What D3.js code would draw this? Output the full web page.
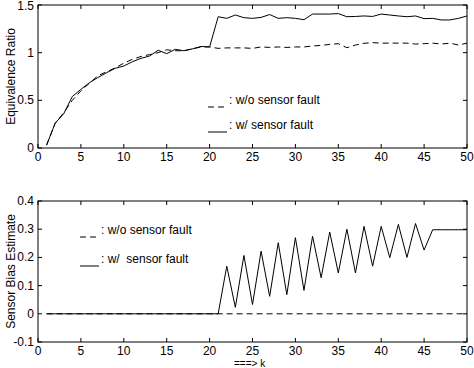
<!DOCTYPE html>
<html>
<head>
<meta charset="utf-8">
<script src="https://cdn.jsdelivr.net/npm/d3@7"></script>
<style>
  body { margin: 0; background: #fff; }
  text { font-family: "Liberation Sans", Arial, sans-serif; fill: #000; }
</style>
</head>
<body>
<div id="chart"></div>
<script>
const k = d3.range(1, 51);

// equivalence ratio, k = 1..50
const ratioNoFault = [0.03, 0.26, 0.37, 0.50, 0.60, 0.68, 0.76, 0.80, 0.84, 0.89,
  0.93, 0.96, 0.98, 1.00, 1.03, 1.02, 1.02, 1.04, 1.06, 1.06,
  1.045, 1.05, 1.05, 1.05, 1.045, 1.06, 1.055, 1.06, 1.055, 1.06,
  1.06, 1.07, 1.076, 1.087, 1.094, 1.052, 1.08, 1.098, 1.105, 1.10,
  1.10, 1.10, 1.10, 1.09, 1.094, 1.10, 1.09, 1.10, 1.08, 1.10];
const ratioFault = [0.03, 0.26, 0.36, 0.54, 0.615, 0.685, 0.74, 0.79, 0.836, 0.86,
  0.905, 0.94, 0.965, 1.025, 0.99, 1.035, 1.02, 1.04, 1.065, 1.06,
  1.377, 1.36, 1.395, 1.367, 1.36, 1.37, 1.40, 1.36, 1.367, 1.36,
  1.346, 1.405, 1.405, 1.405, 1.41, 1.377, 1.38, 1.385, 1.38, 1.405,
  1.395, 1.385, 1.377, 1.385, 1.357, 1.36, 1.343, 1.343, 1.36, 1.385];

// sensor bias estimate
const biasNoFault = k.map(() => 0);
const biasFault = [0, 0, 0, 0, 0, 0, 0, 0, 0, 0,
  0, 0, 0, 0, 0, 0, 0, 0, 0, 0,
  0, 0.169, 0.023, 0.207, 0.033, 0.222, 0.062, 0.252, 0.068, 0.27,
  0.083, 0.275, 0.128, 0.29, 0.145, 0.30, 0.145, 0.31, 0.169, 0.31,
  0.199, 0.317, 0.20, 0.32, 0.226, 0.298, 0.298, 0.298, 0.298, 0.298];

const xTicks = d3.range(0, 51, 5);
const ratioTicks = [0, 0.5, 1, 1.5];
const biasTicks = [-0.1, 0, 0.1, 0.2, 0.3, 0.4];

const width = 474, height = 368;
const svg = d3.select("#chart").append("svg")
  .attr("width", width).attr("height", height);

function panel(top, bottom, yDomain, yTicks, yLabel, series, legend) {
  const x = d3.scaleLinear().domain([0, 50]).range([38, 467]);
  const y = d3.scaleLinear().domain(yDomain).range([bottom, top]);
  const g = svg.append("g");

  const line = d3.line().x((d, i) => x(k[i])).y(d => y(d));
  series.forEach(s => {
    g.append("path")
      .attr("d", line(s.values))
      .attr("fill", "none")
      .attr("stroke", "#000")
      .attr("stroke-width", 1)
      .attr("stroke-dasharray", s.dash);
  });

  // frame with inward ticks on all four sides
  g.append("rect")
    .attr("x", x(0)).attr("y", top)
    .attr("width", x(50) - x(0)).attr("height", bottom - top)
    .attr("fill", "none").attr("stroke", "#000");

  const tl = 4;
  xTicks.forEach(t => {
    g.append("line").attr("x1", x(t)).attr("x2", x(t))
      .attr("y1", bottom).attr("y2", bottom - tl).attr("stroke", "#000");
    g.append("line").attr("x1", x(t)).attr("x2", x(t))
      .attr("y1", top).attr("y2", top + tl).attr("stroke", "#000");
    g.append("text").attr("x", x(t)).attr("y", bottom + 13)
      .attr("text-anchor", "middle").attr("font-size", 12).text(t);
  });
  yTicks.forEach(t => {
    g.append("line").attr("x1", x(0)).attr("x2", x(0) + tl)
      .attr("y1", y(t)).attr("y2", y(t)).attr("stroke", "#000");
    g.append("line").attr("x1", x(50)).attr("x2", x(50) - tl)
      .attr("y1", y(t)).attr("y2", y(t)).attr("stroke", "#000");
    g.append("text").attr("x", 34).attr("y", Math.max(y(t) + 4, 10))
      .attr("text-anchor", "end").attr("font-size", 12).text(t);
  });

  g.append("text")
    .attr("transform", `translate(15,${(top + bottom) / 2}) rotate(-90)`)
    .attr("text-anchor", "middle").attr("font-size", 12).text(yLabel);

  legend.forEach(l => {
    g.append("line").attr("x1", l.x).attr("x2", l.x + 19)
      .attr("y1", l.y + 3).attr("y2", l.y + 3)
      .attr("stroke", "#000").attr("stroke-dasharray", l.dash);
    g.append("text").attr("x", l.x + 21).attr("y", l.y)
      .attr("font-size", 12).style("white-space", "pre").text(l.label);
  });
}

panel(5, 148, [0, 1.5], ratioTicks, "Equivalence Ratio",
  [{ values: ratioNoFault, dash: "6,4" }, { values: ratioFault, dash: null }],
  [{ x: 208, y: 104, dash: "6,4", label: ": w/o sensor fault" },
   { x: 208, y: 129, dash: null, label: ": w/ sensor fault" }]);

panel(201, 342, [-0.1, 0.4], biasTicks, "Sensor Bias Estimate",
  [{ values: biasNoFault, dash: "6,4" }, { values: biasFault, dash: null }],
  [{ x: 80, y: 234, dash: "6,4", label: ": w/o sensor fault" },
   { x: 80, y: 263, dash: null, label: ": w/  sensor fault" }]);

svg.append("text").attr("x", 234).attr("y", 367)
  .attr("font-size", 10).text("===> k");
</script>
</body>
</html>
